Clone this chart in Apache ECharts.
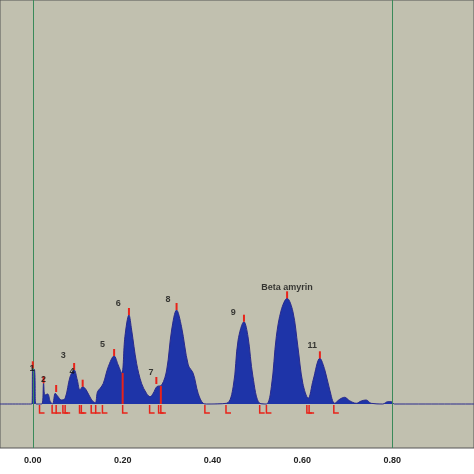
<!DOCTYPE html>
<html><head><meta charset="utf-8">
<script src="https://cdn.jsdelivr.net/npm/echarts@6/dist/echarts.min.js"></script>
<style>html,body{margin:0;background:#fff}#c{width:474px;height:474px}</style>
</head><body><div id="c"></div>
<script>
// densitogram trace, Rf vs height (AU)
const rf = [-0.073,-0.002,0.000,0.004,0.007,0.020,0.024,0.027,0.033,0.039,0.044,0.050,0.055,0.064,0.072,0.083,0.092,0.099,0.105,0.111,0.119,0.131,0.139,0.144,0.150,0.157,0.168,0.181,0.190,0.198,0.205,0.214,0.220,0.231,0.242,0.253,0.261,0.268,0.276,0.287,0.298,0.309,0.320,0.331,0.346,0.357,0.368,0.379,0.387,0.431,0.446,0.457,0.470,0.479,0.490,0.505,0.520,0.531,0.542,0.553,0.566,0.579,0.590,0.601,0.613,0.624,0.639,0.650,0.661,0.672,0.683,0.694,0.705,0.720,0.731,0.742,0.753,0.779,0.790,0.798,0.805,0.982];
const height = [0,0,35.7,34,0,0,20.7,9,10,2.3,0,10.7,8,4,5.7,27.3,34,24,14,17.3,14,4,1.3,12.3,15.7,20.7,37.3,48,39,30.7,67.3,89,74,40.7,20.7,10.7,7.3,10.7,17.3,19,34,74,94,77.3,39,30.7,10.7,0.7,0,0.7,17.3,64,82.3,67.3,27.3,0.7,0,17.3,67.3,94,105.7,92.3,57.3,20.7,5.7,24,45.7,34,14,0.7,4.7,6.7,3.3,0.7,3,4,0.7,0,2.3,2.3,0,0];
const peakRf = [0.0,0.024,0.052,0.092,0.111,0.181,0.214,0.275,0.320,0.470,0.566,0.639];
const peakH = [35.7,20.7,12,34,17.3,48,89,20,94,82.3,105.7,45.7];
const boundRf = [0.015,0.043,0.052,0.067,0.072,0.104,0.108,0.13,0.14,0.155,0.20,0.26,0.28,0.285,0.383,0.43,0.505,0.52,0.61,0.615,0.67];
const tallRf = [0.20,0.285];
const tallH = [31,18];
const labelText = ['1','2','3','4','5','6','7','8','9','Beta amyrin','11'];
const labelRf = [-0.002,0.024,0.068,0.087,0.155,0.190,0.263,0.301,0.446,0.566,0.622];
const labelH = [35,24,48,32,59,100,31,104,91,116,58];
const xTicks = [0,0.2,0.4,0.6,0.8,1.0];

const red = '#e8231a';
const chart = echarts.init(document.getElementById('c'));
chart.setOption({
  animation: false,
  grid: {left: 0, right: 0, top: 0, bottom: 26, show: true, backgroundColor: '#c1c0af', borderColor: '#555', borderWidth: 1},
  xAxis: {
    type: 'value', min: -0.073, max: 0.982,
    axisLine: {show: false}, splitLine: {show: false},
    axisTick: {show: false},
    axisLabel: {customValues: xTicks, formatter: v => v.toFixed(2), fontSize: 9, fontWeight: 'bold', color: '#222', margin: 8, fontFamily: 'Arial'}
  },
  yAxis: {type: 'value', min: -44, max: 404, show: false},
  series: [
    {
      type: 'line', data: rf.map((x, i) => [x, height[i]]), symbol: 'none', smooth: 0.35,
      lineStyle: {color: '#2a2a8c', width: 1},
      areaStyle: {color: '#1e34a8', opacity: 1},
      markLine: {
        silent: true, symbol: 'none', label: {show: false},
        lineStyle: {color: '#3a8a5a', width: 1, type: 'solid'},
        data: [[{coord: [0, -44]}, {coord: [0, 404]}], [{coord: [0.8, -44]}, {coord: [0.8, 404]}]]
      }
    },
    {
      type: 'custom', renderItem: (params, api) => {
        const p = api.coord([api.value(0), api.value(1)]);
        return {type: 'line', shape: {x1: p[0], y1: p[1], x2: p[0], y2: p[1] - 7}, style: {stroke: red, lineWidth: 2}};
      }, data: peakRf.map((x, i) => [x, peakH[i]]), z: 5
    },
    {
      type: 'custom', renderItem: (params, api) => {
        const p = api.coord([api.value(0), 0]);
        return {type: 'polyline', shape: {points: [[p[0], p[1] + 1], [p[0], p[1] + 9], [p[0] + 5, p[1] + 9]]}, style: {stroke: red, lineWidth: 1.5, fill: null}};
      }, data: boundRf.map(x => [x]), z: 5
    },
    {
      type: 'custom', renderItem: (params, api) => {
        const p = api.coord([api.value(0), api.value(1)]);
        const b = api.coord([api.value(0), 0]);
        return {type: 'line', shape: {x1: p[0], y1: p[1], x2: b[0], y2: b[1]}, style: {stroke: red, lineWidth: 2}};
      }, data: tallRf.map((x, i) => [x, tallH[i]]), z: 5
    },
    {
      type: 'scatter', symbolSize: 0, z: 6,
      data: labelRf.map((x, i) => ({value: [x, labelH[i]], name: labelText[i]})),
      label: {show: true, formatter: '{b}', position: 'inside', fontSize: 9, fontWeight: 'bold', color: '#111', fontFamily: 'Arial'}
    }
  ]
});
</script></body></html>
